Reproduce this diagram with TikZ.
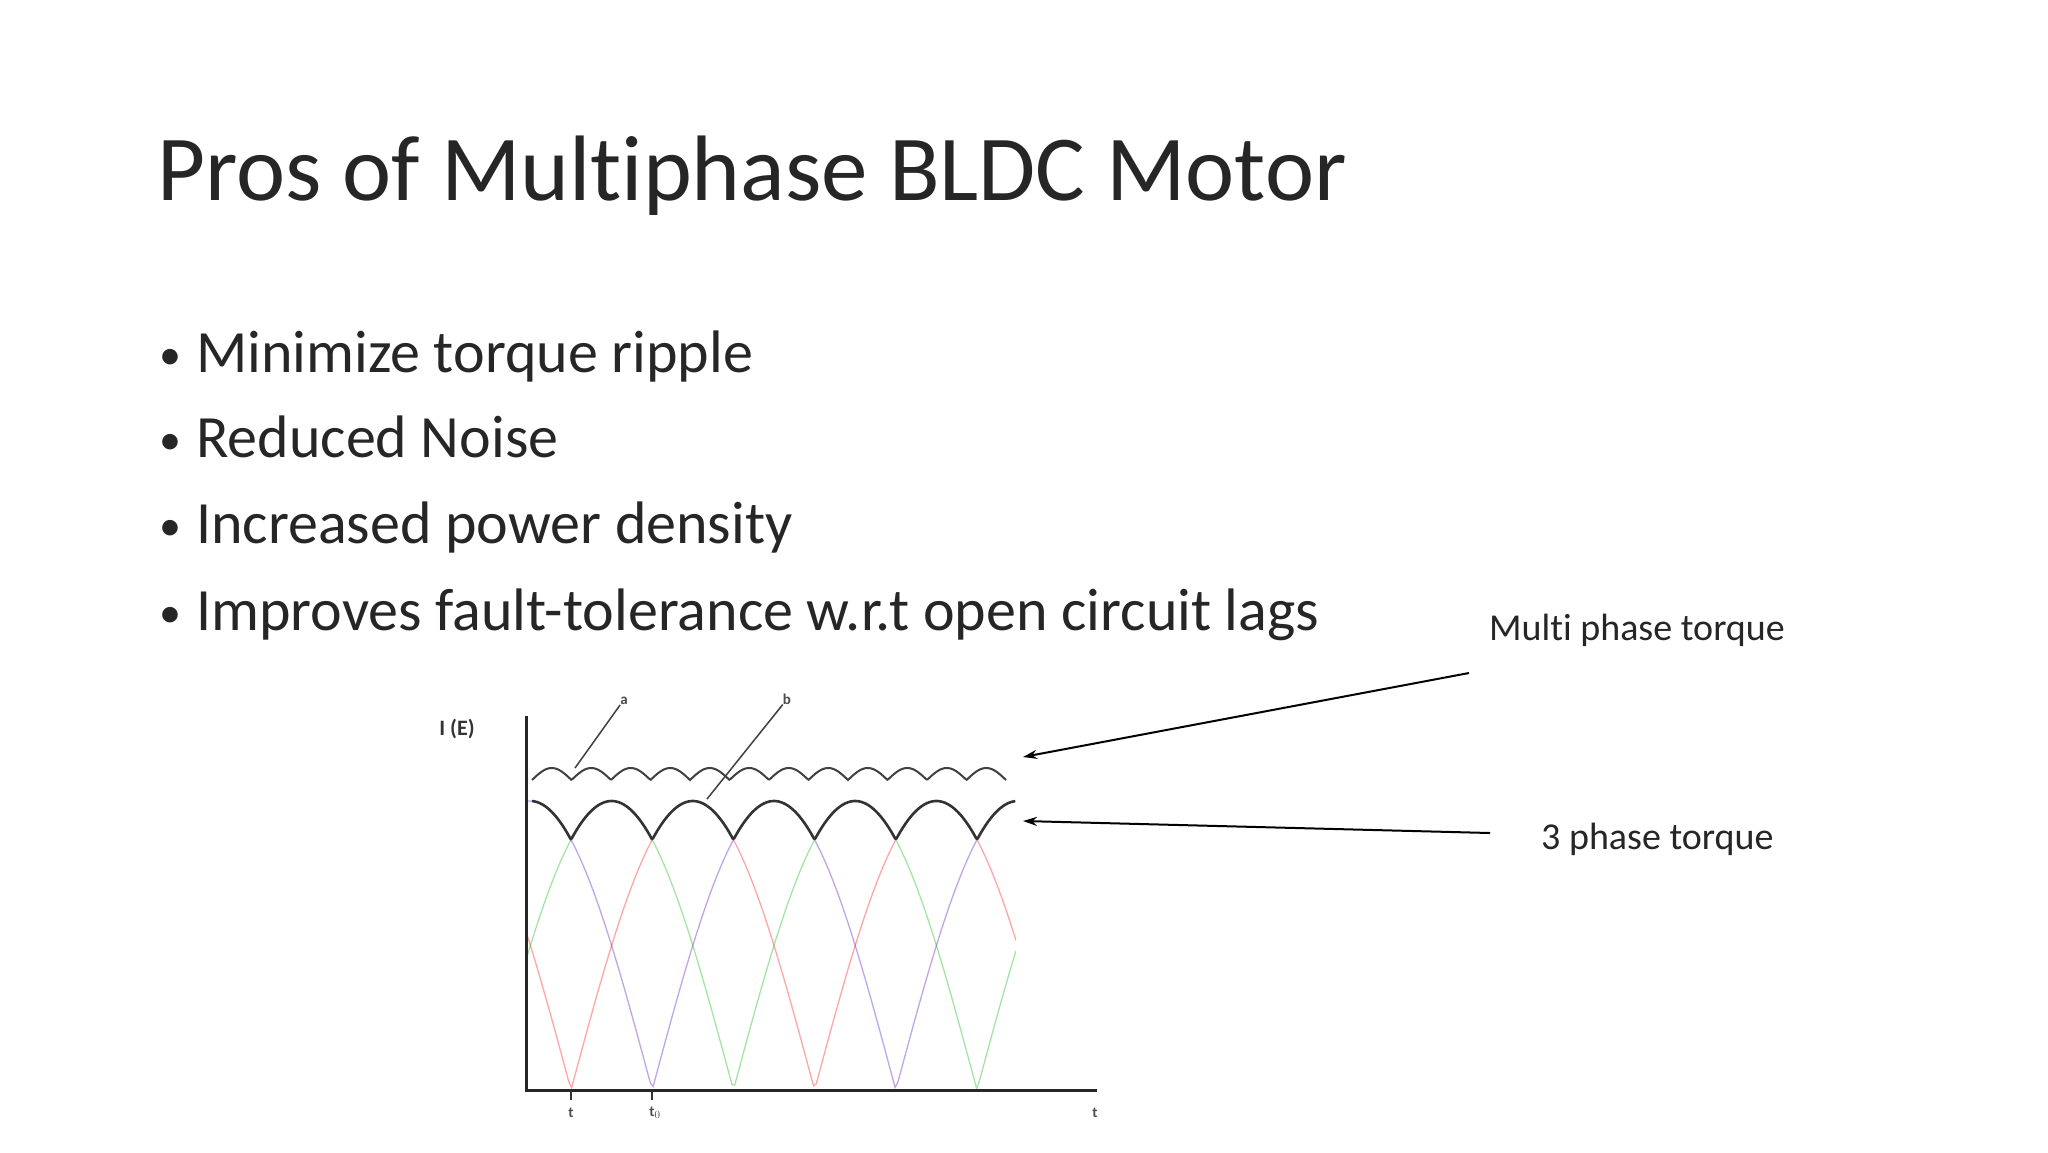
\documentclass[tikz,border=0pt]{standalone}
\usepackage{fontspec}
\usetikzlibrary{arrows.meta}
\setmainfont{Carlito}[Ligatures=NoCommon]
\begin{document}
\begin{tikzpicture}[x=1pt,y=-1pt,
  txt/.style={anchor=base west,inner sep=0pt,text=black!85},
  bul/.style={txt,font=\fontsize{60}{60}\selectfont},
  lab/.style={txt,font=\fontsize{38}{40}\selectfont},
  tiny/.style={inner sep=0pt,font=\fontsize{15}{16}\bfseries\rmfamily,text=black!70},
  ph/.style={line width=1.3pt,opacity=0.35},
  ax/.style={line width=3pt,black!85},
  arr/.style={line width=2pt,black,-{Stealth[length=14pt,width=9pt]}}]
\useasboundingbox (0,0) rectangle (2048,1152);
\fill[white] (0,0) rectangle (2048,1152);
\node[txt,font=\fontsize{93}{100}\selectfont] (title) at (157,200) {Pros of Multiphase BLDC Motor};
\foreach \y/\t [count=\i] in {372/Minimize torque ripple,457/Reduced Noise,543/Increased power density,630/Improves fault-tolerance w.r.t open circuit lags}{
  \node[bul] (b\i) at (196,\y) {\t};
  \node[txt,font=\fontsize{44}{44}\selectfont] (d\i) at (159,\y-3) {•};
}
\node[lab] (mpt) at (1489,640) {Multi phase torque};
\node[lab] (tpt) at (1541,849) {3 phase torque};
% plot
\coordinate (O) at (526,1090);
\coordinate (Ytop) at (526,716);
\coordinate (Xend) at (1097,1090);
\begin{scope}
\clip (526,700) rectangle (1016,1092);
\foreach \z/\c in {571/red,652.2/blue!70!red,733.4/green!70!black}{
  \draw[ph,\c] plot[domain=400:1016,samples=220] (\x,{1090-289*abs(sin(0.73892*(\x-\z)))});
}
\end{scope}
\draw[line width=2.6pt,black!80,line join=round] plot[domain=532:1015,samples=400]
  (\x,{1090-289*max(abs(sin(0.73892*(\x-571))),abs(sin(0.73892*(\x-652.2))),abs(sin(0.73892*(\x-733.4))))});
\draw[line width=2pt,black!75] plot[domain=532:1006,samples=400]
  (\x,{780-12*abs(sin(4.557*(\x-532)))});
\draw[ax] (Ytop) -- (O) -- (Xend);
\draw[line width=1.5pt,black!80] (571,1090) -- (571,1100) (652,1090) -- (652,1100);
\coordinate (aa) at (575,768); \node[tiny] (la) at (624,701) {a};
\coordinate (bb) at (707,799); \node[tiny] (lb) at (787,699) {b};
\draw[line width=1.5pt,black!75] (aa) -- (la.south west);
\draw[line width=1.5pt,black!75] (bb) -- (lb.south west);
\node[tiny,font=\fontsize{22}{24}\bfseries\rmfamily,text=black!80] (ylab) at (457,729) {I (E)};
\node[tiny] (t1) at (571,1113) {t};
\node[tiny] (t2) at (655,1113) {t$_0$};
\node[tiny] (t3) at (1095,1113) {t};
% arrows
\coordinate (m1) at (1469,673); \coordinate (m2) at (1023,757);
\coordinate (p1) at (1490,833); \coordinate (p2) at (1023,821);
\draw[arr] (m1) -- (m2);
\draw[arr] (p1) -- (p2);
\end{tikzpicture}
\end{document}
